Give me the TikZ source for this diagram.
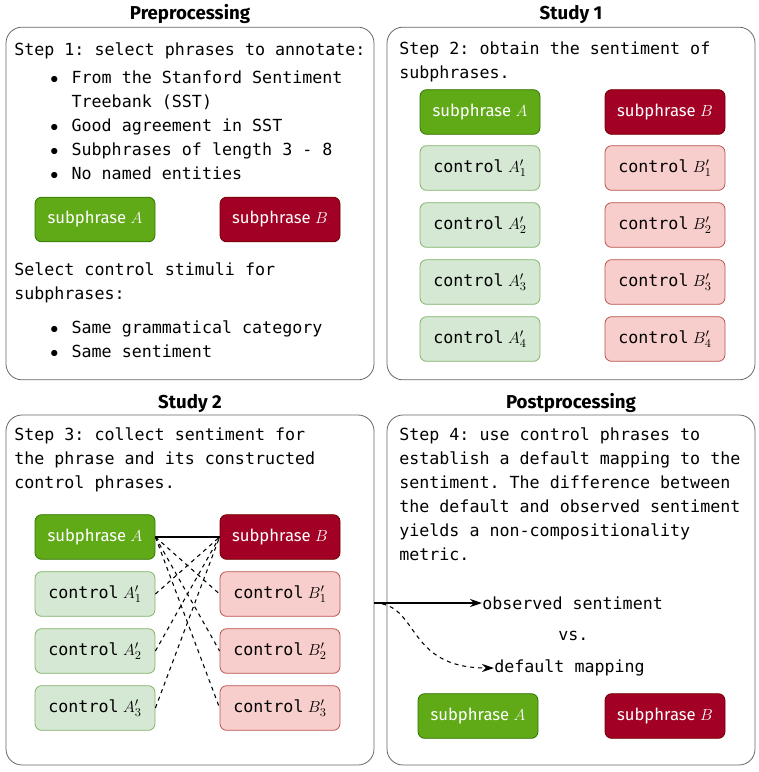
\documentclass[tikz,border=0pt]{standalone}
\usepackage{fontspec}
\setmainfont{Fira Sans}
\setsansfont{Fira Sans}
\setmonofont{DejaVu Sans Mono}
\usetikzlibrary{arrows.meta,positioning,calc}
\definecolor{subAfill}{HTML}{60A917}
\definecolor{subAdraw}{HTML}{2D7600}
\definecolor{subBfill}{HTML}{A20025}
\definecolor{subBdraw}{HTML}{6F0000}
\definecolor{ctlAfill}{HTML}{D5E8D4}
\definecolor{ctlAdraw}{HTML}{82B366}
\definecolor{ctlBfill}{HTML}{F8CECC}
\definecolor{ctlBdraw}{HTML}{B85450}

\begin{document}
\begin{tikzpicture}[x=0.75pt, y=-0.75pt,
    panel/.style={draw=black!60, rounded corners=12pt, minimum width=276pt, minimum height=#1, line width=0.6pt},
    title/.style={font=\fontsize{14}{16}\selectfont\bfseries},
    steptext/.style={anchor=north west, inner sep=0pt, align=left, font=\fontsize{12.5}{18}\ttfamily},
    box/.style={rectangle, rounded corners=5pt, minimum width=90pt, minimum height=33.5pt, font=\fontsize{12.5}{15}\selectfont, line width=0.6pt},
    subA/.style={box, fill=subAfill, draw=subAdraw, text=white},
    subB/.style={box, fill=subBfill, draw=subBdraw, text=white},
    ctlA/.style={box, fill=ctlAfill, draw=ctlAdraw},
    ctlB/.style={box, fill=ctlBfill, draw=ctlBdraw},
    lbl/.style={anchor=west, inner sep=0pt, font=\fontsize{12.5}{15}\ttfamily},
]
    \useasboundingbox (0,0) rectangle (759,772);

    % Panels
    \node[panel=264.5pt] (pre) at (190,203.5) {};
    \node[panel=264.5pt] (st1) at (571,203.5) {};
    \node[panel=262.5pt] (st2) at (190,590) {};
    \node[panel=262.5pt] (post) at (571,590) {};
    \node[title] at (190,14) {Preprocessing};
    \node[title] at (571,14) {Study 1};
    \node[title] at (190,403) {Study 2};
    \node[title] at (571,403) {Postprocessing};

    % Preprocessing
    \node[steptext] (s1) at (14,42) {Step 1: select phrases to annotate:};
    \node[steptext] (s1list) at (50,66) {%
        \begin{tabular}{@{}l@{\hspace{10pt}}l@{}}
        $\bullet$ & From the Stanford Sentiment\\
                  & Treebank (SST)\\
        $\bullet$ & Good agreement in SST\\
        $\bullet$ & Subphrases of length 3 - 8\\
        $\bullet$ & No named entities
        \end{tabular}};
    \node[subA] (preA) at (95,219.5) {subphrase $A$};
    \node[subB] (preB) at (280,219.5) {subphrase $B$};
    \node[steptext] (s1b) at (14,262) {Select control stimuli for\\subphrases:};
    \node[steptext] (s1blist) at (50,316) {%
        \begin{tabular}{@{}l@{\hspace{10pt}}l@{}}
        $\bullet$ & Same grammatical category\\
        $\bullet$ & Same sentiment
        \end{tabular}};

    % Study 1
    \node[steptext] (s2) at (399,42) {Step 2: obtain the sentiment of\\subphrases.};
    \node[subA] (oneA) at (480,112) {subphrase $A$};
    \node[subB] (oneB) at (665,112) {subphrase $B$};
    \foreach \i/\y in {1/168,2/225,3/282,4/339} {
        \node[ctlA] (oneA\i) at (480,\y) {\texttt{control} $A'_\i$};
        \node[ctlB] (oneB\i) at (665,\y) {\texttt{control} $B'_\i$};
    }

    % Study 2
    \node[steptext] (s3) at (14,427) {Step 3: collect sentiment for\\the phrase and its constructed\\control phrases.};
    \node[subA] (twoA) at (95,537) {subphrase $A$};
    \node[subB] (twoB) at (280,537) {subphrase $B$};
    \foreach \i/\y in {1/594,2/651,3/708} {
        \node[ctlA] (twoA\i) at (95,\y) {\texttt{control} $A'_\i$};
        \node[ctlB] (twoB\i) at (280,\y) {\texttt{control} $B'_\i$};
        \draw[dashed, thick] (twoA.east) -- (twoB\i.west);
        \draw[dashed, thick] (twoA\i.east) -- (twoB.west);
    }
    \draw[thick] (twoA.east) -- (twoB.west);

    % Postprocessing
    \node[steptext] (s4) at (399,427) {Step 4: use control phrases to\\establish a default mapping to the\\sentiment. The difference between\\the default and observed sentiment\\yields a non-compositionality\\metric.};
    \node[lbl] (obs) at (482,603) {observed sentiment};
    \node[lbl] at (558,636) {vs.};
    \node[lbl] (dflt) at (494,668) {default mapping};
    \coordinate (out) at (st2.east |- obs);
    \draw[thick, -{Stealth[length=9pt,width=6pt]}] (out) -- (obs.west);
    \draw[thick, dashed, -{Stealth[length=9pt,width=6pt]}] (out) .. controls (420,604) and (405,668) .. (dflt.west);
    \node[subA] (postA) at (478,716) {subphrase $A$};
    \node[subB] (postB) at (665,716) {subphrase $B$};
\end{tikzpicture}
\end{document}
